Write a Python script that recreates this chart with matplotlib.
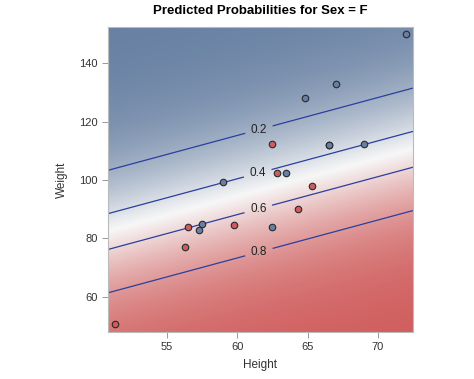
import numpy as np
import matplotlib
matplotlib.use("Agg")
from matplotlib import pyplot as plt
from matplotlib.colors import LinearSegmentedColormap

plt.rcParams["font.family"] = ["Liberation Sans", "DejaVu Sans"]

# sashelp.class
sex = ["M", "F", "F", "F", "M", "M", "F", "F", "M", "M",
       "F", "F", "F", "F", "M", "M", "M", "M", "M"]
height = [69.0, 56.5, 65.3, 62.8, 63.5, 57.3, 59.8, 62.5, 62.5, 59.0,
          51.3, 64.3, 56.3, 66.5, 72.0, 64.8, 67.0, 57.5, 66.5]
weight = [112.5, 84.0, 98.0, 102.5, 102.5, 83.0, 84.5, 112.5, 84.0, 99.5,
          50.5, 90.0, 77.0, 112.0, 150.0, 128.0, 133.0, 85.0, 112.0]

# logistic model for P(Sex=F), coefficients
b0 = 1.076
b_height = 0.0858
b_weight = -0.066

levels = [0.2, 0.4, 0.6, 0.8]

xlim = (50.8, 72.5)
ylim = (47.9, 152.5)

ramp = LinearSegmentedColormap.from_list("ramp", ["#667FA2", "#F7F7F7", "#D05B5B"])

fig = plt.figure(figsize=(4.74, 3.79), dpi=100)
ax = fig.add_axes([0.2278, 0.124, 0.6435, 0.8048])

gx = np.linspace(xlim[0], xlim[1], 300)
gy = np.linspace(ylim[0], ylim[1], 300)
H, W = np.meshgrid(gx, gy)
P = 1 / (1 + np.exp(-(b0 + b_height * H + b_weight * W)))

ax.imshow(P, extent=[xlim[0], xlim[1], ylim[0], ylim[1]], origin="lower",
          cmap=ramp, vmin=0, vmax=1, aspect="auto", interpolation="bilinear")
cs = ax.contour(H, W, P, levels=levels, colors="#2B3F9E", linewidths=0.9)
labels = ax.clabel(cs, fmt="%.1f", fontsize=8.5, colors="#222222", inline=True, inline_spacing=6,
                   manual=[(61.5, 118), (61.5, 101.5), (61.5, 90), (61.5, 76)])
for t in labels:
    t.set_rotation(0)

for s, h, w in zip(sex, height, weight):
    fc = "#D05B5B" if s == "F" else "#667FA2"
    ax.scatter(h, w, s=22, color=fc, edgecolor="#2a2a2a", linewidth=0.8, zorder=3)

ax.set_xlim(xlim)
ax.set_ylim(ylim)
ax.set_xticks([55, 60, 65, 70])
ax.set_yticks([60, 80, 100, 120, 140])
ax.tick_params(labelsize=8, colors="#888888", labelcolor="#333333", length=4, width=0.6)
for sp in ax.spines.values():
    sp.set_color("#BBBBBB")
    sp.set_linewidth(0.8)
ax.set_xlabel("Height", fontsize=8.5, color="#333333", labelpad=5)
ax.set_ylabel("Weight", fontsize=8.5, color="#333333", labelpad=8)
ax.set_title("Predicted Probabilities for Sex = F", fontsize=9.5, fontweight="bold", pad=9)

fig.savefig("out.png", dpi=100)
